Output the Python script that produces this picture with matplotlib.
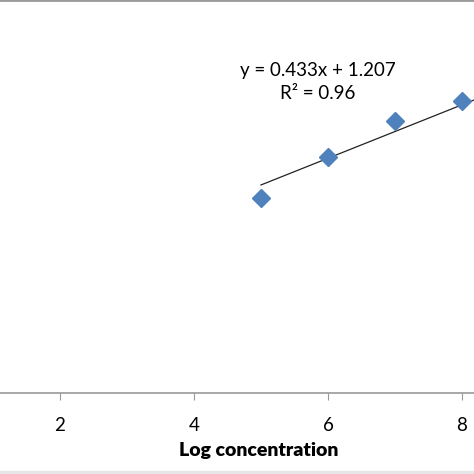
import numpy as np
import matplotlib.pyplot as plt

log_conc = [5, 6, 7, 8]
response = [3.16, 3.82, 4.41, 4.73]
slope = 0.433
intercept = 1.207
r2 = 0.96
xticks = [2, 4, 6, 8]

plt.rcParams['font.family'] = ['Lato', 'DejaVu Sans']

fig = plt.figure(figsize=(4.74, 4.74), dpi=100)
ax = fig.add_axes([0, 81 / 474, 1, 393 / 474])

ax.plot(log_conc, response, 'D', color='#4F81BD', markersize=9, zorder=3)

xs = np.array([log_conc[0], 8.3])
ax.plot(xs, slope * xs + intercept, color='#222222', linewidth=0.9, zorder=2)

ax.text(5.85, 5.23, 'y = %.3fx + %.3f' % (slope, intercept), ha='center', va='center', fontsize=13.5)
ax.text(5.85, 4.86, 'R² = %.2f' % r2, ha='center', va='center', fontsize=13.5)

ax.set_xlim(1.104, 8.18)
ax.set_ylim(0, 6.37)
ax.set_xticks(xticks)
ax.set_yticks([])
ax.tick_params(axis='x', direction='out', length=5, color='#999999', labelsize=13.5, pad=12)
for s in ['left', 'right']:
    ax.spines[s].set_visible(False)
ax.spines['bottom'].set_color('#999999')
ax.spines['bottom'].set_linewidth(1.2)
ax.spines['top'].set_color('#999999')
ax.spines['top'].set_linewidth(2)
ax.set_xlabel('Log concentration', fontsize=14, fontweight='heavy')
# the original plot area is wider than the crop, so the label sits right of centre
ax.xaxis.set_label_coords(259 / 474, -0.125)

fig.patches.append(plt.Rectangle((0, 0), 1, 3 / 474, transform=fig.transFigure, color='#e6e6e6'))

fig.savefig('out.png', dpi=100)
